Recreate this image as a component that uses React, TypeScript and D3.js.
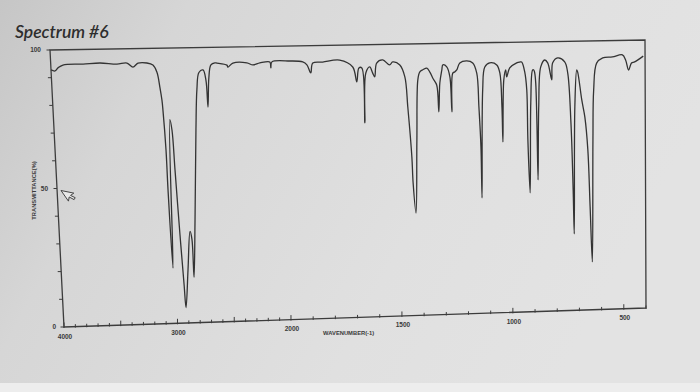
import React from "react";
import * as d3 from "d3";

// ---- Data ----
const wavenumbers = [
  4000, 3966, 3939, 3895, 3721, 3575, 3429, 3342, 3292, 3247, 3170, 3119, 3087, 3067, 3054, 3049, 3037, 3034,
  3019, 2993, 2978, 2966, 2946, 2928, 2919, 2888, 2857, 2843, 2838, 2809, 2770, 2748, 2725, 2689, 2667, 2658,
  2641, 2619, 2584, 2567, 2481, 2473, 2429, 2308, 2257, 2196, 2110, 2103, 2092, 1968, 1911, 1893, 1877, 1867,
  1823, 1748, 1691, 1675, 1664, 1651, 1644, 1634, 1616, 1604, 1595, 1585, 1558, 1528, 1514, 1483, 1462, 1452,
  1439, 1436, 1426, 1415, 1405, 1396, 1382, 1364, 1351, 1339, 1322, 1315, 1308, 1298, 1293, 1276, 1263, 1257,
  1250, 1241, 1232, 1218, 1187, 1161, 1144, 1137, 1131, 1130, 1119, 1108, 1086, 1055, 1042, 1035, 1033, 1025,
  1016, 1012, 998, 967, 954, 945, 932, 924, 922, 915, 907, 897, 892, 888, 884, 881, 879, 872, 861, 843, 830,
  813, 808, 786, 755, 742, 730, 723, 720, 712, 702, 698, 681, 668, 656, 648, 640, 633, 628, 614, 587, 544, 500,
  486, 473, 460, 446, 408,
];
const transmittance = [
  92.8, 92.4, 93.5, 94.5, 94.7, 95.0, 94.5, 94.8, 93.3, 94.7, 94.7, 93.9, 91.3, 85.8, 81.1, 77.5, 63.0, 48.5,
  20.1, 74.0, 70.2, 55.7, 32.1, 14.0, 5.6, 19.4, 33.2, 30.3, 16.5, 37.6, 70.2, 84.8, 90.9, 91.8, 88.1, 78.3,
  88.9, 93.6, 94.3, 94.2, 93.4, 92.7, 94.1, 94.1, 93.3, 94.0, 94.3, 92.1, 94.3, 94.5, 94.1, 93.0, 90.0, 93.6,
  93.9, 94.5, 91.9, 86.4, 91.5, 91.5, 71.3, 89.6, 91.8, 89.6, 88.1, 93.2, 94.3, 92.4, 93.5, 92.3, 87.9, 76.8,
  58.4, 48.8, 37.7, 64.6, 86.7, 89.6, 90.4, 91.0, 89.5, 87.3, 84.7, 74.8, 85.4, 90.2, 92.1, 91.3, 87.6, 74.7,
  89.0, 89.4, 90.1, 92.7, 93.4, 92.6, 88.8, 76.3, 61.5, 42.7, 82.6, 91.0, 92.5, 91.7, 88.7, 76.1, 63.2, 86.1,
  89.8, 87.2, 90.5, 92.3, 92.6, 92.6, 88.9, 82.2, 63.7, 44.1, 77.4, 89.6, 89.6, 88.5, 84.8, 70.0, 48.8, 75.9, 90.7, 93.2, 92.1,
  85.8, 92.1, 93.9, 92.4, 88.2, 69.7, 44.7, 28.4, 75.6, 89.3, 88.5, 78.1, 71.7, 59.5, 38.3, 17.8, 63.1, 81.7, 91.7, 93.6, 93.9, 94.6,
  92.7, 88.9, 91.5, 91.9, 94.0,
];

const xTickValues = [4000, 3000, 2000, 1500, 1000, 500];
const xTickLabels = ["4000", "3000", "2000", "1500", "1000", "500"];
const yTickValues = [100, 50, 0];
const yTickLabels = ["100", "50", "0"];

// ---- Layout: the photographed plot frame is a slightly skewed quadrilateral ----
const TL = [50, 50];
const TR = [645, 40];
const BL = [64, 327];
const BR = [646, 308];

function project(u: number, v: number): [number, number] {
  const a = (1 - u) * (1 - v), b = u * (1 - v), c = (1 - u) * v, d = u * v;
  return [
    a * TL[0] + b * TR[0] + c * BL[0] + d * BR[0],
    a * TL[1] + b * TR[1] + c * BL[1] + d * BR[1],
  ];
}

export default function App() {
  const xScale = d3.scaleLinear().domain([4000, 2000, 400]).range([0, 0.39, 1]);
  const yScale = d3.scaleLinear().domain([0, 100]).range([1, 0]);

  const pts: [number, number][] = wavenumbers.map((w, i) => [w, transmittance[i]]);
  const line = d3
    .line<[number, number]>()
    .x((d) => project(xScale(d[0]), yScale(d[1]))[0])
    .y((d) => project(xScale(d[0]), yScale(d[1]))[1])
    .curve(d3.curveCatmullRom.alpha(0.5));

  const minorX = d3.range(4000, 399, -100);
  const minorY = d3.range(0, 101, 10);

  const frame = [project(0, 0), project(1, 0), project(1, 1), project(0, 1)];
  const framePath = "M" + frame.map((p) => p.join(",")).join("L") + "Z";

  const axisColor = "#3c3c3c";
  const textColor = "#3a3a3a";
  const tickFont = "'Liberation Sans', Arial, sans-serif";

  const yMid = project(0, 0.5);
  const xLab = project(xScale(1740), 1);

  return (
    <svg
      width={700}
      height={392}
      viewBox="0 0 700 392"
      style={{ position: "fixed", left: 0, top: 0, display: "block" }}
    >
      <defs>
        <linearGradient id="bg" x1="0" y1="0" x2="1" y2="0.3">
          <stop offset="0" stopColor="#c6c6c6" />
          <stop offset="0.25" stopColor="#d6d6d6" />
          <stop offset="0.7" stopColor="#e0e0e0" />
          <stop offset="1" stopColor="#e3e3e3" />
        </linearGradient>
      </defs>
      <rect x={0} y={0} width={700} height={392} fill="url(#bg)" />
      <rect x={0} y={383} width={700} height={9} fill="#ededed" />

      <text
        x={15}
        y={38}
        fontFamily="Lato, 'Open Sans', sans-serif"
        fontStyle="italic"
        fontWeight={600}
        fontSize={17.5}
        fill="#2e2e2e"
      >
        Spectrum #6
      </text>

      {/* frame */}
      <path d={framePath} fill="none" stroke={axisColor} strokeWidth={1.3} />

      {/* y ticks */}
      {minorY.map((t) => {
        const p = project(0, yScale(t));
        return <line key={"yt" + t} x1={p[0] - 3.5} y1={p[1]} x2={p[0]} y2={p[1]} stroke={axisColor} strokeWidth={1} />;
      })}
      {yTickValues.map((t, i) => {
        const p = project(0, yScale(t));
        return (
          <text
            key={"yl" + t}
            x={p[0] - (t === 0 ? 8 : 9)}
            y={p[1] + 2.3}
            textAnchor="end"
            fontFamily={tickFont}
            fontWeight="bold"
            fontSize={6.5}
            fill={textColor}
          >
            {yTickLabels[i]}
          </text>
        );
      })}
      <text
        transform={`translate(${yMid[0] - 21},${yMid[1] + 2}) rotate(-90)`}
        textAnchor="middle"
        fontFamily={tickFont}
        fontWeight="bold"
        fontSize={5.8}
        fill={textColor}
      >
        TRANSMITTANCE(%)
      </text>

      {/* x ticks */}
      {minorX.map((w) => {
        const p = project(xScale(w), 1);
        const major = w % 500 === 0;
        return (
          <line
            key={"xt" + w}
            x1={p[0]}
            y1={p[1] + 1}
            x2={p[0]}
            y2={p[1] - (major ? 4.5 : 2.5)}
            stroke={axisColor}
            strokeWidth={1}
          />
        );
      })}
      {xTickValues.map((w, i) => {
        const p = project(xScale(w), 1);
        return (
          <text
            key={"xl" + w}
            x={p[0] + 1}
            y={p[1] + 11.5}
            textAnchor="middle"
            fontFamily={tickFont}
            fontWeight="bold"
            fontSize={6.5}
            fill={textColor}
          >
            {xTickLabels[i]}
          </text>
        );
      })}
      <text
        x={xLab[0]}
        y={xLab[1] + 17}
        textAnchor="middle"
        fontFamily={tickFont}
        fontWeight="bold"
        fontSize={5.8}
        fill={textColor}
      >
        WAVENUMBER(-1)
      </text>

      {/* spectrum */}
      <path d={line(pts) || ""} fill="none" stroke="#333" strokeWidth={1.3} strokeLinejoin="round" />

      {/* mouse pointer seen in the photo */}
      <g transform={`translate(${yMid[0] + 4},${yMid[1] + 2}) rotate(-35)`}>
        <path
          d="M0,0 L0,13 L3,10 L5.5,15 L7.5,14 L5,9.5 L9,9.5 Z"
          fill="#e8e8e8"
          stroke="#444"
          strokeWidth={0.9}
          strokeLinejoin="round"
        />
      </g>
    </svg>
  );
}
